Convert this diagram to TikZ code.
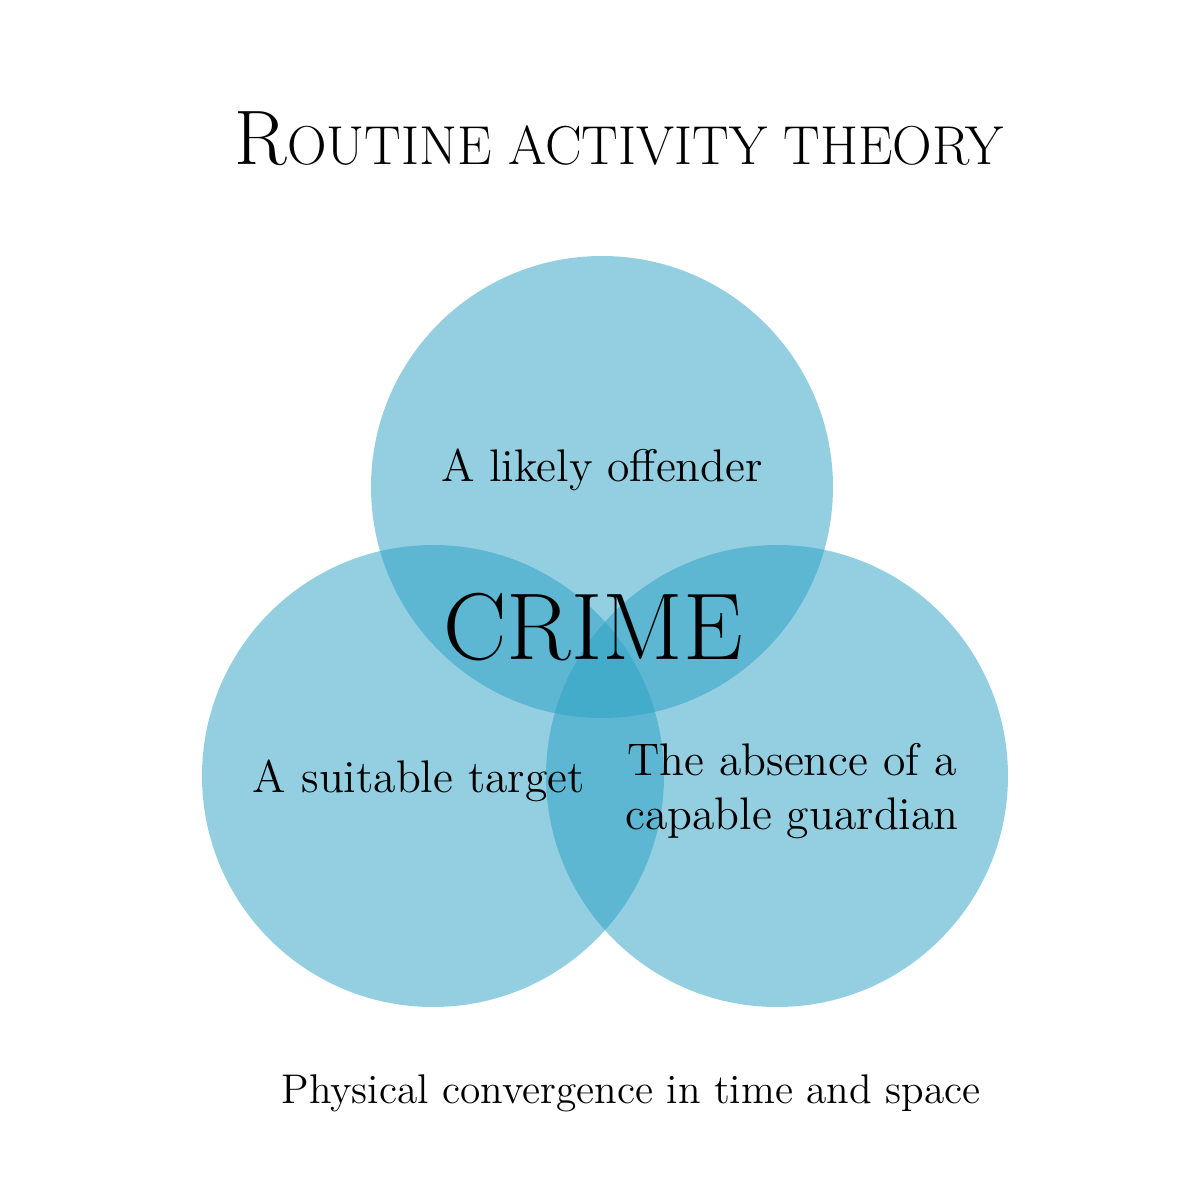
\documentclass[tikz,border=0pt]{standalone}
\definecolor{vennblue}{RGB}{40,160,195}
\begin{document}
\begin{tikzpicture}[ring/.style={fill=vennblue,fill opacity=0.5},
    lbl/.style={font=\fontsize{13}{15.6}\selectfont,anchor=base,align=center}]
    \useasboundingbox(0,0)rectangle(12,12);
    \fill[ring](6.02,7.13)circle(2.31);
    \fill[ring](4.33,4.24)circle(2.31);
    \fill[ring](7.77,4.24)circle(2.31);
    \node[anchor=base](title)at(6.19,10.35){{\fontsize{22}{22}\selectfont R}{\fontsize{15.6}{15.6}\selectfont OUTINE ACTIVITY THEORY}};
    \node[lbl](offender)at(6.02,7.18){A likely offender};
    \node[anchor=base,font=\fontsize{27}{27}\selectfont](crime)at(5.93,5.40){CRIME};
    \node[lbl](target)at(4.19,4.07){A suitable target};
    \node[lbl](guardian)at(7.92,3.70){The absence of a\\capable guardian};
    \node[lbl,font=\fontsize{11.8}{14}\selectfont](convergence)at(6.31,0.97){Physical convergence in time and space};
\end{tikzpicture}
\end{document}
